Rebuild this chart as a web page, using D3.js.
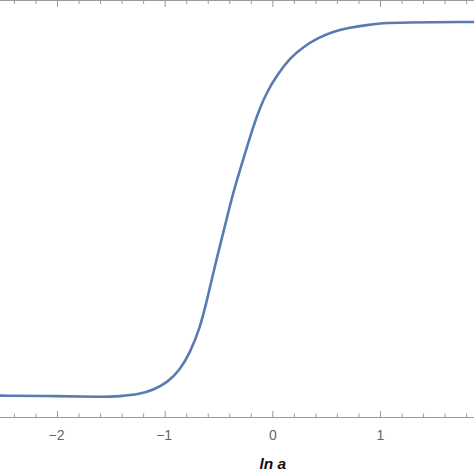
<!DOCTYPE html>
<html>
<head>
<meta charset="utf-8">
<script src="https://cdn.jsdelivr.net/npm/d3@7"></script>
<style>
  html, body { margin: 0; padding: 0; background: #fff; }
  svg { display: block; }
</style>
</head>
<body>
<svg id="chart" width="474" height="474"></svg>
<script>
// Data (x = ln a, y = normalized response, no y-axis shown)
const xValues = [-2.534, -1.995, -1.605, -1.419, -1.233, -1.113, -0.983, -0.862, -0.770, -0.676, -0.611, -0.518, -0.444, -0.370, -0.277, -0.184, -0.119, -0.054, 0.039, 0.160, 0.281, 0.411, 0.559, 0.717, 0.875, 1.024, 1.182, 1.869];
const yValues = [0.001, 0.0, -0.003, -0.001, 0.005, 0.016, 0.035, 0.070, 0.115, 0.182, 0.257, 0.372, 0.455, 0.543, 0.631, 0.719, 0.771, 0.813, 0.858, 0.904, 0.933, 0.956, 0.975, 0.985, 0.992, 0.997, 0.999, 1.0];
const majorTicks = [-2, -1, 0, 1];
const minorTicks = [-2.4, -2.2, -1.8, -1.6, -1.4, -1.2, -0.8, -0.6, -0.4, -0.2, 0.2, 0.4, 0.6, 0.8, 1.2, 1.4, 1.6, 1.8];
const xLabel = "ln a";

const W = 474, H = 474;
const axisY = 417;
const svg = d3.select("#chart");

const x = d3.scaleLinear().domain([-2, 1]).range([57.5, 380.5]);
const y = d3.scaleLinear().domain([0, 1]).range([396, 22]);

const axisColor = "#9a9a9a";

// Bottom axis
const bottomG = svg.append("g").attr("transform", `translate(0,${axisY})`);
bottomG.append("line").attr("x1", 0).attr("x2", W).attr("y1", 0.5).attr("y2", 0.5)
  .attr("stroke", axisColor).attr("stroke-width", 1);
bottomG.selectAll("line.major").data(majorTicks).join("line")
  .attr("class", "major")
  .attr("x1", d => x(d)).attr("x2", d => x(d)).attr("y1", 0.5).attr("y2", -6)
  .attr("stroke", axisColor).attr("stroke-width", 1);
bottomG.selectAll("line.minor").data(minorTicks).join("line")
  .attr("class", "minor")
  .attr("x1", d => x(d)).attr("x2", d => x(d)).attr("y1", 0.5).attr("y2", -3.5)
  .attr("stroke", axisColor).attr("stroke-width", 1);
bottomG.selectAll("text").data(majorTicks).join("text")
  .attr("x", d => x(d) + (d < 0 ? -1 : 0))
  .attr("y", 22.5)
  .attr("text-anchor", "middle")
  .attr("font-family", "'Liberation Sans', Arial, sans-serif")
  .attr("font-size", 14)
  .attr("fill", "#666")
  .text(d => d < 0 ? "\u2212" + Math.abs(d) : String(d));

// Top frame
const topG = svg.append("g");
topG.append("line").attr("x1", 0).attr("x2", W).attr("y1", 0.5).attr("y2", 0.5)
  .attr("stroke", axisColor).attr("stroke-width", 1.2);
topG.selectAll("line.major").data(majorTicks).join("line")
  .attr("class", "major")
  .attr("x1", d => x(d)).attr("x2", d => x(d)).attr("y1", 0).attr("y2", 7)
  .attr("stroke", axisColor).attr("stroke-width", 1);
topG.selectAll("line.minor").data(minorTicks).join("line")
  .attr("class", "minor")
  .attr("x1", d => x(d)).attr("x2", d => x(d)).attr("y1", 0).attr("y2", 4)
  .attr("stroke", axisColor).attr("stroke-width", 1);

// X label
svg.append("text")
  .attr("x", x(0)).attr("y", 469)
  .attr("text-anchor", "middle")
  .attr("font-family", "'Liberation Sans', Arial, sans-serif")
  .attr("font-size", 15.5)
  .attr("font-weight", "bold")
  .attr("font-style", "italic")
  .attr("fill", "#111")
  .text(xLabel);

// Curve
const pts = xValues.map((v, i) => [v, yValues[i]]);
const line = d3.line().x(d => x(d[0])).y(d => y(d[1])).curve(d3.curveBasis);
svg.append("path")
  .attr("d", line(pts))
  .attr("fill", "none")
  .attr("stroke", "#5a7bb2")
  .attr("stroke-width", 2.6)
  .attr("stroke-linejoin", "round");
</script>
</body>
</html>
